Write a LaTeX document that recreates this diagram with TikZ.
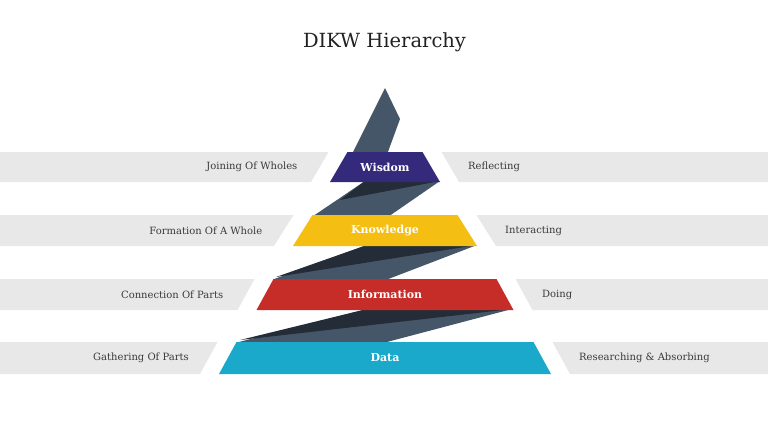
\documentclass[tikz,border=0pt]{standalone}
\usepackage{fontspec}
\setmainfont{DejaVu Serif}
\definecolor{bandgray}{HTML}{E8E8E8}
\definecolor{ribbonc}{HTML}{465669}
\definecolor{ribbondark}{HTML}{242C38}
\definecolor{wisdomc}{HTML}{342A7B}
\definecolor{knowc}{HTML}{F4BE12}
\definecolor{infoc}{HTML}{C62D28}
\definecolor{datac}{HTML}{1AA8CB}
\definecolor{txtc}{HTML}{3A3A3A}
\definecolor{titlec}{HTML}{222222}
\begin{document}
\begin{tikzpicture}[x=1pt,y=-1pt,
  band/.style={fill=bandgray},
  ribbon/.style={fill=ribbonc},
  fold/.style={fill=ribbondark},
  sidetxt/.style={text=txtc,font=\fontsize{10}{12}\selectfont,inner sep=0pt},
  lefttxt/.style={sidetxt,anchor=east},
  righttxt/.style={sidetxt,anchor=west},
  levtxt/.style={text=white,font=\fontsize{11}{13}\selectfont\bfseries,inner sep=0pt}]
\useasboundingbox (0,0) rectangle (768,431);
\fill[white] (0,0) rectangle (768,431);

% title
\node[text=titlec,font=\fontsize{19.5}{23}\selectfont] (title) at (384.5,42) {DIKW Hierarchy};

% ribbon (zigzag behind the levels)
\fill[ribbon] (385,88) -- (400,119) -- (385,160) -- (349,160) -- cycle;
\fill[ribbon] (365,181) -- (440,181) -- (390,215.5) -- (314,215.5) -- cycle;
\fill[fold] (365,181) -- (440,181) -- (340,200) -- cycle;
\fill[ribbon] (367,245) -- (477,245) -- (387,279.5) -- (273,279.5) -- cycle;
\fill[fold] (367,245) -- (477,245) -- (276,277) -- cycle;
\fill[ribbon] (367,309) -- (512,309) -- (385,342.5) -- (237,342.5) -- cycle;
\fill[fold] (367,309) -- (512,309) -- (240,340) -- cycle;

% level trapezoids
\fill[wisdomc] (347.5,152) -- (422.5,152) -- (440,182) -- (330,182) -- cycle;
\fill[knowc]   (312.5,215) -- (457.5,215) -- (477,246) -- (293,246) -- cycle;
\fill[infoc]   (273.5,279) -- (496.5,279) -- (513.5,310) -- (256.5,310) -- cycle;
\fill[datac]   (236.5,342) -- (533.5,342) -- (551,374) -- (219,374) -- cycle;

\node[levtxt] (wisdom) at (385,167) {Wisdom};
\node[levtxt] (knowledge) at (385,230.5) {Knowledge};
\node[levtxt] (information) at (385,294.5) {Information};
\node[levtxt] (data) at (385,358) {Data};

% side bands
\fill[band] (0,152) -- (328.5,152) -- (311,182) -- (0,182) -- cycle;
\fill[band] (441.5,152) -- (768,152) -- (768,182) -- (459,182) -- cycle;
\fill[band] (0,215) -- (293.5,215) -- (274,246) -- (0,246) -- cycle;
\fill[band] (476.5,215) -- (768,215) -- (768,246) -- (496,246) -- cycle;
\fill[band] (0,279) -- (254.5,279) -- (237.5,310) -- (0,310) -- cycle;
\fill[band] (515.5,279) -- (768,279) -- (768,310) -- (532.5,310) -- cycle;
\fill[band] (0,342) -- (217.5,342) -- (200,374) -- (0,374) -- cycle;
\fill[band] (552.5,342) -- (768,342) -- (768,374) -- (570,374) -- cycle;

% side texts
\node[lefttxt] (l1) at (297.5,167) {Joining Of Wholes};
\node[lefttxt] (l2) at (262.5,230.5) {Formation Of A Whole};
\node[lefttxt] (l3) at (223.5,294.5) {Connection Of Parts};
\node[lefttxt] (l4) at (189,358) {Gathering Of Parts};
\node[righttxt] (r1) at (468,167) {Reflecting};
\node[righttxt] (r2) at (505,230.5) {Interacting};
\node[righttxt] (r3) at (542,294.5) {Doing};
\node[righttxt] (r4) at (579,358) {Researching \& Absorbing};
\end{tikzpicture}
\end{document}
